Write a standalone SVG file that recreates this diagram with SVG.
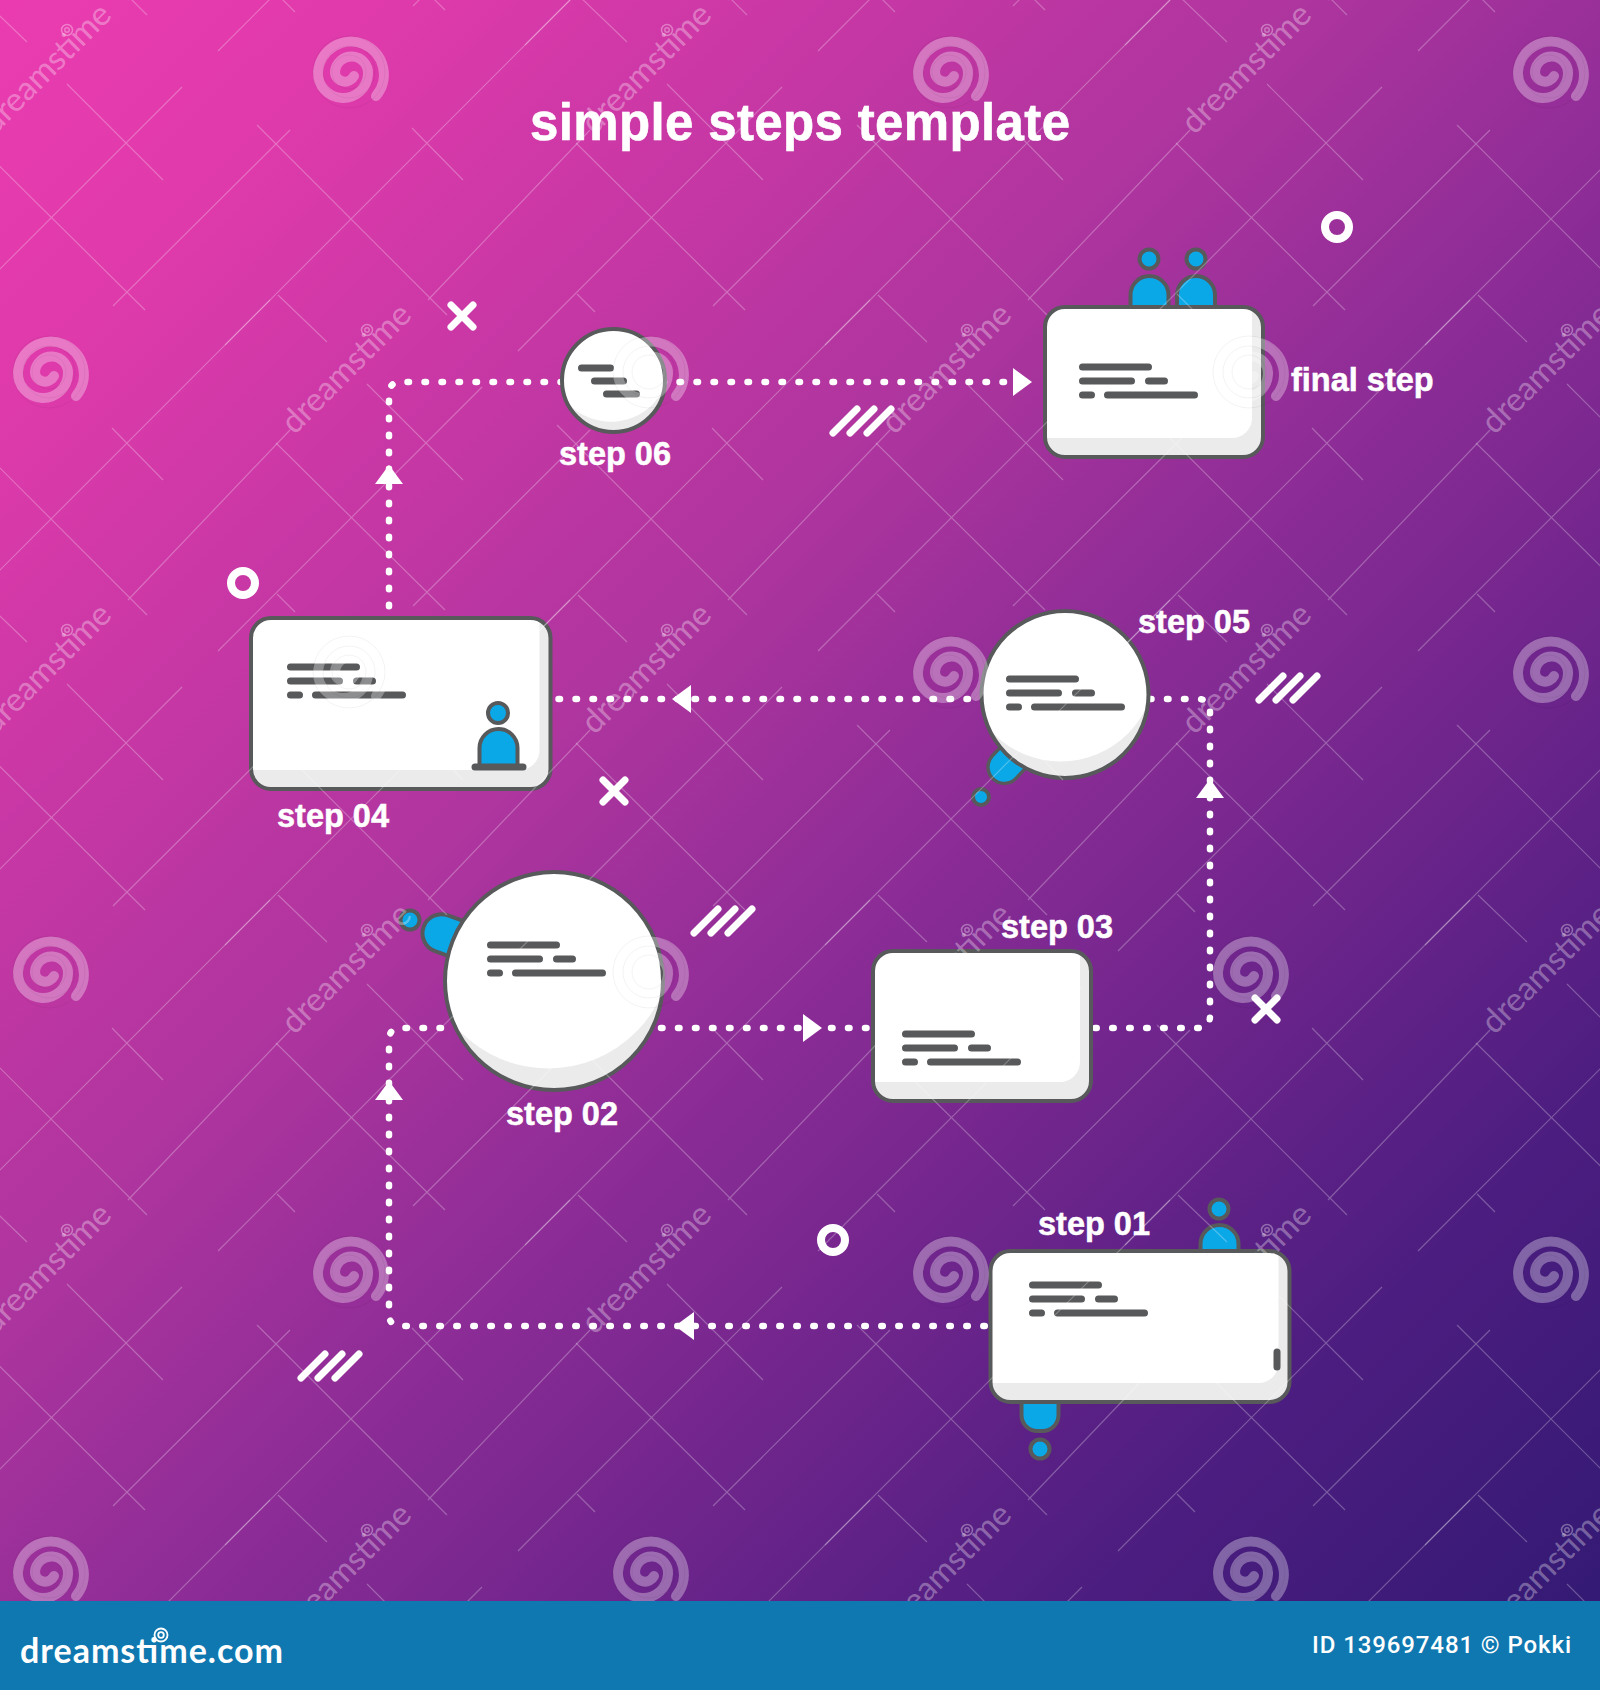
<svg xmlns="http://www.w3.org/2000/svg" width="1600" height="1690" viewBox="0 0 1600 1690">
<style>
.lbl{font-family:"Liberation Sans",Arial,sans-serif;font-weight:700;fill:#fff;font-size:32.500px;stroke:#fff;stroke-width:.5px}
.b{stroke:#58595b;stroke-width:4;fill:none}
.s{fill:#ebebeb}
.w{fill:#fff}
.t{stroke:#58595b;stroke-width:7;stroke-linecap:round;fill:none}
.p{fill:#0ba8e8;stroke:#58595b;stroke-width:4}
.c{fill:none;stroke:#fff;stroke-width:6.500;stroke-linecap:round;stroke-dasharray:1.500 15.500}
.a{fill:#fff}
.m{fill:none;stroke:#fff;stroke-width:7;stroke-linecap:round}
.r{fill:none;stroke:#fff;stroke-width:8}
.wl{stroke:#fff;stroke-opacity:.27;stroke-width:1.200;fill:none}
.ws{stroke:#fff;stroke-opacity:.32;stroke-width:10;fill:none;stroke-linecap:round}
.wt{font-family:"Lato","Open Sans",sans-serif;font-size:33px;fill:#fff;fill-opacity:.32}
</style>
<defs>
<linearGradient id="bg" gradientUnits="userSpaceOnUse" x1="0" y1="0" x2="1600" y2="1600">
<stop offset="0" stop-color="#ea3cb0"/>
<stop offset=".125" stop-color="#df3aab"/>
<stop offset=".4" stop-color="#b0359f"/>
<stop offset=".56" stop-color="#8c2c96"/>
<stop offset=".84" stop-color="#4c1d80"/>
<stop offset="1" stop-color="#341a74"/>
</linearGradient>
<clipPath id="unit"><circle r="100"/></clipPath>
<g id="ball">
<circle r="100" class="s"/>
<circle cx="-5.200" cy="-33.500" r="113.700" class="w" clip-path="url(#unit)"/>
<circle r="100" fill="none" stroke="#58595b" stroke-width="4" vector-effect="non-scaling-stroke"/>
</g>
<path id="lines" class="t" d="M3.500 0H69.500M3.500 14H52.500M69.500 14H85.500M3.500 28H12.500M28.500 28H115.500"/>
<polygon id="arrow" class="a" points="19,0 0,-14 0,14"/>
<path id="slash" class="m" d="M0 0L24-24M17 0L41-24M34 0L58-24"/>
<path id="cross" class="m" d="M-11-11L11 11M-11 11L11-11"/>
<path id="body" class="p" d="M-19 20V-8A19 19 0 0 1 19-8V20Z"/>
<g id="cell">
<path class="wl" d="M-82 351L182 87M113 306L290 130M225 345L570 0M428 300L590 130M-24 143L145 310M67 84L163 180M257 125L447 315M278 295L327 342M412 128L463 180M277-6L295 12"/>
<path class="ws" transform="translate(349 72)" d="M27 24A33 33 0 1 0-31 0A25 25 0 0 0 19 2A16 16 0 0 0-14 0A10 10 0 0 0 5 4"/>
<g fill="none" stroke="#000" stroke-opacity=".05" stroke-width="1"><circle cx="349" cy="72" r="36"/><circle cx="349" cy="72" r="26"/><circle cx="349" cy="72" r="17"/></g>
<text class="wt" x="54" y="76" text-anchor="middle" textLength="168" transform="rotate(-45 54 76)">dreamstime</text>
<g fill="none" stroke="#fff" stroke-opacity=".34" stroke-width="1.500"><circle cx="67" cy="30" r="5.500"/><circle cx="67" cy="30" r="2.200"/></g>
</g>
<g id="row"><use href="#cell" x="-600"/><use href="#cell"/><use href="#cell" x="600"/><use href="#cell" x="1200"/></g>
</defs>

<rect id="background" width="1600" height="1690" fill="url(#bg)"/>

<g id="connectors">
<path class="c" d="M441 1028H401Q389 1028 389 1040V1314Q389 1326 401 1326H992"/>
<path class="c" d="M661 1028H880"/>
<path class="c" d="M1150 699H1198Q1210 699 1210 711V1016Q1210 1028 1198 1028H1090"/>
<path class="c" d="M985 699H548"/>
<path class="c" d="M1021 382H401Q389 382 389 394V617"/>
<use href="#arrow" transform="translate(694 1326) rotate(180)"/>
<use href="#arrow" transform="translate(389 1100) rotate(-90)"/>
<use href="#arrow" transform="translate(803 1028)"/>
<use href="#arrow" transform="translate(1210 798) rotate(-90)"/>
<use href="#arrow" transform="translate(691 699) rotate(180)"/>
<use href="#arrow" transform="translate(389 484) rotate(-90)"/>
<use href="#arrow" transform="translate(1013 382)"/>
</g>

<g id="decor">
<circle class="r" cx="1337" cy="227" r="12"/>
<circle class="r" cx="243" cy="583" r="12"/>
<circle class="r" cx="833" cy="1240" r="12"/>
<use href="#cross" x="462" y="316"/>
<use href="#cross" x="614" y="791"/>
<use href="#cross" x="1266" y="1009"/>
<use href="#slash" x="833" y="433"/>
<use href="#slash" x="1259" y="700"/>
<use href="#slash" x="694" y="933"/>
<use href="#slash" x="301" y="1378"/>
</g>

<text id="title" x="530" y="140" font-family="Liberation Sans, Arial, sans-serif" font-weight="700" font-size="51" fill="#fff" stroke="#fff" stroke-width=".6" textLength="540">simple steps template</text>

<g id="step-01">
<circle class="p" cx="1219" cy="1209" r="9.500"/>
<path class="p" d="M1200.500 1254V1244A19 19 0 0 1 1238.500 1244V1254Z"/>
<circle class="p" cx="1040" cy="1449" r="9.500"/>
<path class="p" d="M1021.500 1400V1415A16 16 0 0 0 1037.500 1431H1042.500A16 16 0 0 0 1058.500 1415V1400Z"/>
<rect class="s" x="990.500" y="1251" width="299" height="151" rx="20"/>
<path class="w" d="M1010.500 1251H1269.500A20 20 0 0 1 1278.500 1253V1363A20 20 0 0 1 1258.500 1383H990.500V1271A20 20 0 0 1 1010.500 1251Z"/>
<rect class="b" x="990.500" y="1251" width="299" height="151" rx="20"/>
<use href="#lines" x="1029" y="1285"/>
<path class="t" d="M1277 1352V1367"/>
<text class="lbl" x="1038" y="1235">step 01</text>
</g>

<g id="step-02">
<circle class="p" cx="410" cy="920" r="9.500"/>
<use href="#body" transform="translate(449 936) rotate(-70)"/>
<use href="#ball" transform="translate(554 981) scale(1.09)"/>
<use href="#lines" x="487" y="945"/>
<text class="lbl" x="506" y="1125">step 02</text>
</g>

<g id="step-03">
<rect class="s" x="873" y="951" width="218" height="150" rx="20"/>
<path class="w" d="M893 951H1071A20 20 0 0 1 1080 953V1062A20 20 0 0 1 1060 1082H873V971A20 20 0 0 1 893 951Z"/>
<rect class="b" x="873" y="951" width="218" height="150" rx="20"/>
<use href="#lines" x="902" y="1034"/>
<text class="lbl" x="1001" y="938">step 03</text>
</g>

<g id="step-04">
<rect class="s" x="251" y="618" width="299.500" height="171" rx="20"/>
<path class="w" d="M271 618H530.500A20 20 0 0 1 539.500 620V750A20 20 0 0 1 519.500 770H251V638A20 20 0 0 1 271 618Z"/>
<rect class="b" x="251" y="618" width="299.500" height="171" rx="20"/>
<use href="#lines" x="287" y="667"/>
<circle class="p" cx="498" cy="713" r="10"/>
<path class="p" d="M479.500 767V748A19 19 0 0 1 517.500 748V767Z"/>
<path class="t" d="M475 767H523"/>
<text class="lbl" x="277" y="827">step 04</text>
</g>

<g id="step-05">
<circle class="p" cx="981" cy="797" r="8"/>
<use href="#body" transform="translate(1009 762) rotate(-137) scale(.86)"/>
<use href="#ball" transform="translate(1065 694.500) scale(.835)"/>
<use href="#lines" x="1006" y="679"/>
<text class="lbl" x="1138" y="633">step 05</text>
</g>

<g id="step-06">
<use href="#ball" transform="translate(613.500 380.500) scale(.515)"/>
<path class="t" d="M581.500 368H610.500M594.500 381H623.500M606.500 394H636.500"/>
<text class="lbl" x="559" y="465">step 06</text>
</g>

<g id="final-step">
<circle class="p" cx="1149" cy="259" r="9.500"/>
<circle class="p" cx="1196" cy="259" r="9.500"/>
<path class="p" d="M1130.500 310V295A19 19 0 0 1 1168.500 295V310Z"/>
<path class="p" d="M1177 310V295A19 19 0 0 1 1215 295V310Z"/>
<rect class="s" x="1045" y="307" width="218" height="150" rx="20"/>
<path class="w" d="M1065 307H1243A20 20 0 0 1 1252 309V418A20 20 0 0 1 1232 438H1045V327A20 20 0 0 1 1065 307Z"/>
<rect class="b" x="1045" y="307" width="218" height="150" rx="20"/>
<use href="#lines" x="1079" y="367"/>
<text class="lbl" x="1291" y="391">final step</text>
</g>

<g id="watermark">
<use href="#row" y="-300" x="300"/>
<use href="#row"/>
<use href="#row" x="300" y="300"/>
<use href="#row" y="600"/>
<use href="#row" x="300" y="900"/>
<use href="#row" y="1200"/>
<use href="#row" x="300" y="1500"/>
</g>

<rect id="footer" y="1601" width="1600" height="89" fill="#1078b0"/>
<text x="20" y="1663" font-family="Lato, sans-serif" font-size="34" font-weight="700" fill="#fff" textLength="263">dreamstime.com</text>
<g fill="none" stroke="#fff" stroke-width="1.800"><circle cx="161" cy="1635" r="6.500"/><circle cx="161" cy="1635" r="2.800"/></g>
<text x="1312" y="1653" font-family="Roboto, sans-serif" font-size="24" font-weight="500" fill="#fff" textLength="259">ID 139697481 © Pokki</text>
</svg>
